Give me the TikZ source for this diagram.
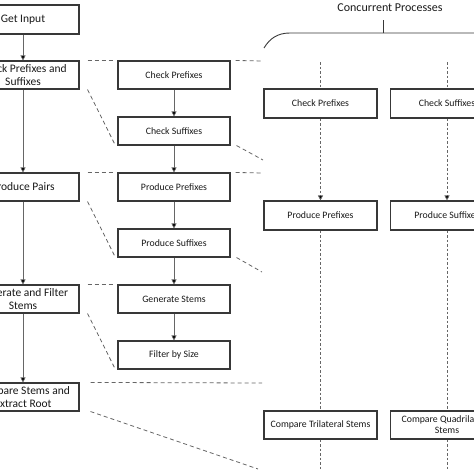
\documentclass[tikz,border=0pt]{standalone}
\usepackage{fontspec}
\setmainfont{Carlito}
\usetikzlibrary{arrows.meta}
\begin{document}
\begin{tikzpicture}[x=1pt,y=-1pt,
  box/.style={draw=black!78, line width=1.1pt, fill=white, rectangle, inner sep=1pt, align=center, text=black!90},
  bigbox/.style={box, minimum width=112pt, minimum height=28pt, font=\fontsize{11.5}{13}\selectfont},
  smallbox/.style={box, minimum width=112pt, minimum height=28pt, font=\fontsize{9.8}{11}\selectfont},
  flow/.style={draw=black!60, line width=0.6pt, -{Triangle[length=5pt,width=5pt,fill=black]}},
  callout/.style={draw=black!60, line width=0.8pt, dash pattern=on 4pt off 3pt},
  lane/.style={draw=black!60, line width=0.7pt, dash pattern=on 2.5pt off 2pt},
  lanearrow/.style={lane, -{Triangle[length=5pt,width=5pt,fill=black]}}
]
\useasboundingbox (0,0) rectangle (474,474);
\clip (0,0) rectangle (474,474);

% left column
\node[bigbox, minimum height=29pt] (gi) at (23,19.5) {Get Input};
\node[bigbox] (cps) at (23,75) {Check Prefixes and\\Suffixes};
\node[bigbox] (pp) at (23,187) {Produce Pairs};
\node[bigbox] (gfs) at (23,299) {Generate and Filter\\Stems};
\node[bigbox] (cse) at (23,397) {Compare Stems and\\Extract Root};
\draw[flow] (gi) -- (cps);
\draw[flow] (cps) -- (pp);
\draw[flow] (pp) -- (gfs);
\draw[flow] (gfs) -- (cse);

% middle column
\node[smallbox] (mcp) at (174,75) {Check Prefixes};
\node[smallbox] (mcs) at (174,131) {Check Suffixes};
\node[smallbox] (mpp) at (174,187) {Produce Prefixes};
\node[smallbox] (mps) at (174,243) {Produce Suffixes};
\node[smallbox] (mgs) at (174,299) {Generate Stems};
\node[smallbox] (mfs) at (174,355) {Filter by Size};
\draw[flow] (mcp) -- (mcs);
\draw[flow] (mcs) -- (mpp);
\draw[flow] (mpp) -- (mps);
\draw[flow] (mps) -- (mgs);
\draw[flow] (mgs) -- (mfs);

% right column
\node[smallbox, minimum width=113pt, minimum height=29pt] (rcp) at (320.5,103.5) {Check Prefixes};
\node[smallbox, minimum width=113pt, minimum height=29pt] (rcs) at (447,103.5) {Check Suffixes};
\node[smallbox, minimum width=113pt, minimum height=29pt] (rpp) at (320.5,215.5) {Produce Prefixes};
\node[smallbox, minimum width=113pt, minimum height=29pt] (rps) at (447,215.5) {Produce Suffixes};
\node[smallbox, minimum width=113pt, minimum height=28pt] (rct) at (320.5,425) {Compare Trilateral Stems};
\node[smallbox, minimum width=113pt, minimum height=28pt] (rcq) at (447,425) {Compare Quadrilateral\\Stems};

% lanes
\coordinate (l1top) at (320.5,62);
\coordinate (l2top) at (447,62);
\coordinate (l1bot) at (320.5,470);
\coordinate (l2bot) at (447,470);
\draw[lane] (l1top) -- (rcp.north);
\draw[lane] (l2top) -- (rcs.north);
\draw[lanearrow] (rcp.south) -- (rpp.north);
\draw[lanearrow] (rcs.south) -- (rps.north);
\draw[lane] (rpp.south) -- (rct.north);
\draw[lane] (rps.south) -- (rcq.north);
\draw[lane] (rct.south) -- (l1bot);
\draw[lane] (rcq.south) -- (l2bot);

% brace
\coordinate (bl) at (264,48);
\coordinate (bm) at (383,33);
\coordinate (br) at (520,33);
\node[font=\fontsize{12}{13}\selectfont, text=black!90] (title) at (390,7.5) {Concurrent Processes};
\draw[draw=black!78, line width=0.9pt] (bl) .. controls (270,38) and (278,33) .. (290,33) -- (br);
\draw[draw=black!78, line width=0.9pt] (bm) -- ++(0,-13);

% callouts
\coordinate (r1) at (262,61);
\coordinate (r2) at (263,160);
\coordinate (r3) at (262,173);
\coordinate (r4) at (262,272);
\coordinate (r5) at (262,383);
\coordinate (r6) at (258,469);
\draw[callout] ([xshift=8pt]cps.north east) -- ([xshift=-4pt]mcp.north west);
\draw[callout] ([xshift=8pt]cps.south east) -- ([xshift=-2pt]mcs.south west);
\draw[callout] ([xshift=5pt]mcp.north east) -- (r1);
\draw[callout] ([xshift=6pt]mcs.south east) -- (r2);
\draw[callout] ([xshift=8pt]pp.north east) -- ([xshift=-4pt]mpp.north west);
\draw[callout] ([xshift=8pt]pp.south east) -- ([xshift=-2pt]mps.south west);
\draw[callout] ([xshift=5pt]mpp.north east) -- (r3);
\draw[callout] ([xshift=6pt]mps.south east) -- (r4);
\draw[callout] ([xshift=8pt]gfs.north east) -- ([xshift=-4pt]mgs.north west);
\draw[callout] ([xshift=8pt]gfs.south east) -- ([xshift=-2pt]mfs.south west);
\draw[callout] ([xshift=11pt]cse.north east) -- (r5);
\draw[callout] ([xshift=11pt]cse.south east) -- (r6);
\end{tikzpicture}
\end{document}
